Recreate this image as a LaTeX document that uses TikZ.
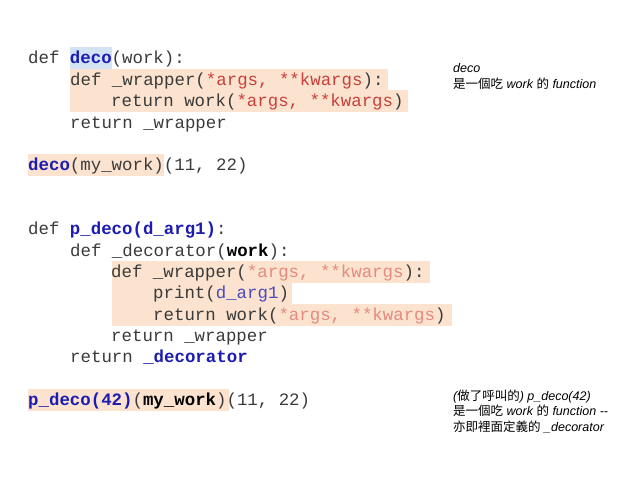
\documentclass[tikz,border=0pt]{standalone}
\usepackage{fontspec}
\setmonofont{Liberation Mono}
\setsansfont{Liberation Sans}
\newfontfamily\cjk{Noto Sans CJK TC}
\usetikzlibrary{positioning}
\definecolor{kwblue}{HTML}{1C1CB0}
\definecolor{argred}{HTML}{C8403A}
\definecolor{argpale}{HTML}{E58A7C}
\definecolor{codegray}{HTML}{3A3A3A}
\definecolor{hlorange}{HTML}{FBE3CF}
\definecolor{hlblue}{HTML}{D3E3F3}
\newcommand{\kw}[1]{\textcolor{kwblue}{\textbf{#1}}}
\newcommand{\argr}[1]{\textcolor{argred}{#1}}
\newcommand{\argp}[1]{\textcolor{argpale}{#1}}
\tikzset{
  code/.style={anchor=base west, inner sep=0pt, font=\ttfamily\fontsize{17.4}{21}\selectfont, text=codegray},
  note/.style={anchor=base west, inner sep=0pt, align=left, font=\sffamily\itshape\fontsize{12.5}{16}\selectfont, text=black},
  hl/.style={fill=hlorange, draw=none}
}
\begin{document}
\begin{tikzpicture}[x=1pt, y=-1pt]
	\useasboundingbox (0,0) rectangle (638,478);
	% highlights
	\fill[hlblue] (70,47) rectangle (112,69);
	\fill[hl] (70,69) rectangle (388,90);
	\fill[hl] (70,90) rectangle (408,112);
	\fill[hl] (28,154) rectangle (164,176);
	\fill[hl] (112,261) rectangle (430,283);
	\fill[hl] (112,283) rectangle (292,304);
	\fill[hl] (112,304) rectangle (452,326);
	\fill[hl] (28,389) rectangle (229,411);

	% first block
	\node[code] (d1) at (28,64) {def \kw{deco}(work):};
	\node[code] (d2) at (70,86) {def \_wrapper(\argr{*args, **kwargs}):};
	\node[code] (d3) at (111,107) {return work(\argr{*args, **kwargs})};
	\node[code] (d4) at (70,129) {return \_wrapper};
	\node[code] (d5) at (28,171) {\kw{deco}(my\_work)(11, 22)};

	% second block
	\node[code] (p1) at (28,235) {def \kw{p\_deco(d\_arg1)}:};
	\node[code] (p2) at (70,257) {def \_decorator(\textbf{\textcolor{black}{work}}):};
	\node[code] (p3) at (111,278) {def \_wrapper(\argp{*args, **kwargs}):};
	\node[code] (p4) at (153,299) {print(\textcolor{kwblue!80}{d\_arg1})};
	\node[code] (p5) at (153,321) {return work(\argp{*args, **kwargs})};
	\node[code] (p6) at (111,342) {return \_wrapper};
	\node[code] (p7) at (70,363) {return \kw{\_decorator}};
	\node[code] (p8) at (28,406) {\kw{p\_deco(42)}(\textbf{\textcolor{black}{my\_work}})(11, 22)};

	% notes
	\node[note] (n1) at (453,89) {deco\\{\cjk 是一個吃} work {\cjk 的} function};
	\node[note] (n2) at (453,432) {({\cjk 做了呼叫的}) p\_deco(42)\\{\cjk 是一個吃} work {\cjk 的} function -{}-\\{\cjk 亦即裡面定義的} \_decorator};
\end{tikzpicture}
\end{document}
